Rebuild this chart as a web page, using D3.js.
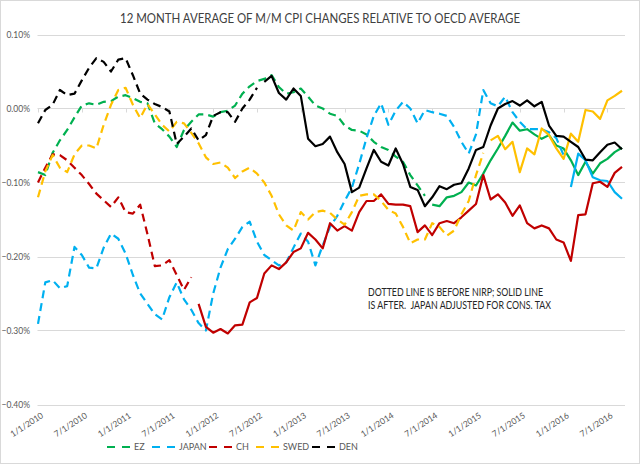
<!DOCTYPE html>
<html>
<head>
<meta charset="utf-8">
<script src="https://cdn.jsdelivr.net/npm/d3@7"></script>
<style>
  html, body { margin: 0; padding: 0; background: #fff; }
  svg { display: block; }
</style>
</head>
<body>
<svg id="chart" width="640" height="464"></svg>
<script>
// ---------- DATA (monthly, Jan 2010 .. Sep 2016; values in %) ----------
const monthCount = 81;

const tickLabels = ["1/1/2010","7/1/2010","1/1/2011","7/1/2011","1/1/2012","7/1/2012","1/1/2013",
                    "7/1/2013","1/1/2014","7/1/2014","1/1/2015","7/1/2015","1/1/2016","7/1/2016"];
const tickMonths = [0,6,12,18,24,30,36,42,48,54,60,66,72,78];

const yTicks = [0.10, 0.00, -0.10, -0.20, -0.30, -0.40];

const seriesNames = ["EZ", "JAPAN", "CH", "SWED", "DEN"];
const seriesColors = ["#00B050", "#00B0F0", "#C00000", "#FFC000", "#000000"];
// first month index drawn as solid (after NIRP); earlier months are dashed
const nirpStart = [54, 73, 22, 62, 31];

const EZ = [
 -0.086,-0.090,-0.060,-0.043,-0.029,-0.012, 0.004, 0.007, 0.005, 0.009,
  0.010, 0.016, 0.018, 0.014, 0.009, 0.007,-0.020,-0.028,-0.038,-0.052,
 -0.029,-0.018,-0.008,-0.008,-0.011,-0.005,-0.003, 0.004, 0.020, 0.030,
  0.037, 0.040, 0.045, 0.029, 0.020, 0.022, 0.027, 0.016, 0.004, 0.000,
 -0.007,-0.010,-0.023,-0.029,-0.030,-0.035,-0.045,-0.052,-0.056,-0.065,
 -0.072,-0.090,-0.104,-0.118,-0.130,-0.132,-0.120,-0.118,-0.113,-0.100,
 -0.104,-0.088,-0.070,-0.054,-0.037,-0.019,-0.030,-0.028,-0.035,-0.041,
 -0.036,-0.050,-0.054,-0.070,-0.090,-0.072,-0.088,-0.074,-0.068,-0.059,
 -0.053];

const JAPAN = [
 -0.291,-0.235,-0.232,-0.243,-0.240,-0.187,-0.198,-0.215,-0.216,-0.188,
 -0.169,-0.176,-0.196,-0.225,-0.250,-0.264,-0.278,-0.285,-0.255,-0.235,
 -0.258,-0.272,-0.290,-0.300,-0.250,-0.215,-0.190,-0.176,-0.160,-0.153,
 -0.180,-0.198,-0.205,-0.212,-0.208,-0.188,-0.169,-0.180,-0.212,-0.185,
 -0.160,-0.145,-0.125,-0.107,-0.075,-0.040,-0.010, 0.007,-0.022,-0.003,
  0.009, 0.000,-0.020,-0.002,-0.005,-0.007,-0.010,-0.025,-0.045,-0.061,
 -0.035, 0.025, 0.007, 0.003, 0.016,-0.005,-0.018,-0.028,-0.028,-0.028,
 -0.032,-0.040,-0.063,-0.106,-0.061,-0.070,-0.093,-0.097,-0.098,-0.113,
 -0.122];

const CH = [
 -0.100,-0.080,-0.062,-0.063,-0.070,-0.080,-0.090,-0.102,-0.115,-0.124,
 -0.133,-0.120,-0.140,-0.142,-0.130,-0.170,-0.213,-0.212,-0.205,-0.225,
 -0.245,-0.228,-0.264,-0.295,-0.303,-0.298,-0.304,-0.293,-0.292,-0.262,
 -0.256,-0.223,-0.212,-0.217,-0.208,-0.194,-0.189,-0.168,-0.177,-0.189,
 -0.155,-0.165,-0.159,-0.165,-0.140,-0.125,-0.125,-0.116,-0.129,-0.130,
 -0.130,-0.132,-0.167,-0.158,-0.171,-0.155,-0.152,-0.155,-0.147,-0.138,
 -0.129,-0.090,-0.123,-0.116,-0.127,-0.145,-0.131,-0.155,-0.162,-0.158,
 -0.162,-0.177,-0.181,-0.206,-0.144,-0.143,-0.101,-0.099,-0.106,-0.087,
 -0.079];

const SWED = [
 -0.120,-0.085,-0.063,-0.080,-0.086,-0.062,-0.050,-0.050,-0.054,-0.022,
  0.005, 0.025, 0.028, 0.005,-0.013, 0.006,-0.008,-0.022,-0.031,-0.018,
 -0.020,-0.033,-0.047,-0.066,-0.075,-0.073,-0.080,-0.094,-0.085,-0.080,
 -0.088,-0.100,-0.118,-0.143,-0.158,-0.165,-0.140,-0.150,-0.140,-0.138,
 -0.141,-0.150,-0.157,-0.140,-0.118,-0.116,-0.116,-0.125,-0.137,-0.142,
 -0.160,-0.182,-0.177,-0.177,-0.155,-0.160,-0.172,-0.165,-0.143,-0.125,
 -0.090,-0.060,-0.043,-0.037,-0.055,-0.045,-0.086,-0.054,-0.062,-0.027,
 -0.036,-0.054,-0.068,-0.034,-0.045,-0.002,-0.004,-0.014, 0.011, 0.017,
  0.024];

const DEN = [
 -0.020,-0.002, 0.005, 0.025, 0.018, 0.020, 0.038, 0.055, 0.068, 0.063,
  0.050, 0.066, 0.068, 0.045, 0.020, 0.012, 0.006, 0.002,-0.004,-0.048,
 -0.038,-0.027,-0.043,-0.036,-0.010,-0.005,-0.005,-0.018, 0.000, 0.012,
  0.028, 0.036, 0.044, 0.021, 0.012, 0.027, 0.017,-0.041,-0.051,-0.048,
 -0.038,-0.059,-0.075,-0.113,-0.107,-0.081,-0.056,-0.072,-0.077,-0.054,
 -0.075,-0.106,-0.110,-0.132,-0.120,-0.105,-0.109,-0.103,-0.101,-0.081,
 -0.056,-0.052,-0.023, 0.000, 0.006, 0.010, 0.004, 0.011, 0.003, 0.009,
 -0.023,-0.037,-0.038,-0.045,-0.052,-0.069,-0.070,-0.059,-0.049,-0.046,
 -0.055];

const seriesValues = [EZ, JAPAN, CH, SWED, DEN];

const titleText = "12 MONTH AVERAGE OF M/M CPI CHANGES RELATIVE TO OECD AVERAGE";
const noteLines = ["DOTTED LINE IS BEFORE NIRP; SOLID LINE", "IS AFTER.  JAPAN ADJUSTED FOR CONS. TAX"];

// ---------- DRAWING ----------
const svg = d3.select("#chart");
const W = 640, H = 464;
const FONT = "Lato, 'Open Sans', 'Liberation Sans', sans-serif";
const GRID = "#D9D9D9";
const TXT = "#595959";

svg.append("rect").attr("x", 0.5).attr("y", 0.5).attr("width", W - 1).attr("height", H - 1)
  .attr("fill", "#fff").attr("stroke", GRID).attr("stroke-width", 1);

const x = d3.scaleLinear().domain([0, monthCount - 1]).range([38, 622]);
const y = d3.scaleLinear().domain([-0.40, 0.10]).range([404.5, 34.5]);
const plotRight = 625;

// title
svg.append("text").attr("x", 320).attr("y", 23).attr("text-anchor", "middle")
  .attr("font-family", FONT).attr("font-size", 14).attr("fill", "#404040")
  .attr("textLength", 400).attr("lengthAdjust", "spacingAndGlyphs")
  .text(titleText);

// y grid + labels
const yAxis = d3.axisLeft(y).tickValues(yTicks).tickSize(0).tickPadding(0)
  .tickFormat(d => d3.format(".2f")(d) + "%");
const yg = svg.append("g").attr("transform", `translate(30,0)`).call(yAxis);
yg.select(".domain").remove();
yg.selectAll("text").attr("font-family", FONT).attr("font-size", 8.5).attr("fill", TXT)
  .attr("text-anchor", "end");

svg.append("g").selectAll("line").data(yTicks).join("line")
  .attr("x1", 37.5).attr("x2", plotRight)
  .attr("y1", d => Math.round(y(d)) + 0.5).attr("y2", d => Math.round(y(d)) + 0.5)
  .attr("stroke", GRID).attr("stroke-width", 1);

// category axis crosses at 0: tick marks on the zero line
const y0 = Math.round(y(0)) + 0.5;
svg.append("g").selectAll("line").data(tickMonths).join("line")
  .attr("x1", d => Math.round(x(d)) + 0.5).attr("x2", d => Math.round(x(d)) + 0.5)
  .attr("y1", y0).attr("y2", y0 + 4)
  .attr("stroke", GRID).attr("stroke-width", 1);

// x labels at bottom, rotated
const xAxis = d3.axisBottom(x).tickValues(tickMonths).tickSize(0)
  .tickFormat((d, i) => tickLabels[i]);
const xg = svg.append("g").call(xAxis);
xg.select(".domain").remove();
xg.selectAll(".tick").attr("transform", d => `translate(${x(d) + 6},417)`);
xg.selectAll("text").attr("font-family", FONT).attr("font-size", 8.5).attr("fill", TXT)
  .attr("y", 0).attr("dy", 0).attr("text-anchor", "end").attr("transform", "rotate(-33)");

// series lines
const lineGen = d3.line().defined(d => d.v != null).x(d => x(d.m)).y(d => y(d.v));
const linesG = svg.append("g").attr("fill", "none").attr("stroke-linejoin", "round");
seriesNames.forEach((name, si) => {
  const vals = seriesValues[si].map((v, m) => ({ m, v }));
  const before = vals.filter(d => d.m < nirpStart[si]);
  const after = vals.filter(d => d.m >= nirpStart[si]);
  linesG.append("path").datum(before).attr("d", lineGen)
    .attr("stroke", seriesColors[si]).attr("stroke-width", 2.2)
    .attr("stroke-dasharray", "8,5");
  linesG.append("path").datum(after).attr("d", lineGen)
    .attr("stroke", seriesColors[si]).attr("stroke-width", 2.2);
});

// annotation
noteLines.forEach((t, i) => {
  svg.append("text").attr("x", 368).attr("y", 295.5 + i * 13)
    .attr("font-family", FONT).attr("font-size", 10.5).attr("fill", "#262626")
    .attr("xml:space", "preserve").style("white-space", "pre")
    .attr("textLength", i === 0 ? 175 : 183).attr("lengthAdjust", "spacingAndGlyphs")
    .text(t);
});

// legend
const legendX = [107, 152, 209, 256, 312];
const ly = 447;
const legend = svg.append("g");
seriesNames.forEach((name, si) => {
  const lx = legendX[si];
  legend.append("line").attr("x1", lx).attr("x2", lx + 23).attr("y1", ly).attr("y2", ly)
    .attr("stroke", seriesColors[si]).attr("stroke-width", 2.2).attr("stroke-dasharray", "8,7");
  legend.append("text").attr("x", lx + 27).attr("y", ly + 3)
    .attr("font-family", FONT).attr("font-size", 9).attr("fill", TXT).text(name);
});
</script>
</body>
</html>
